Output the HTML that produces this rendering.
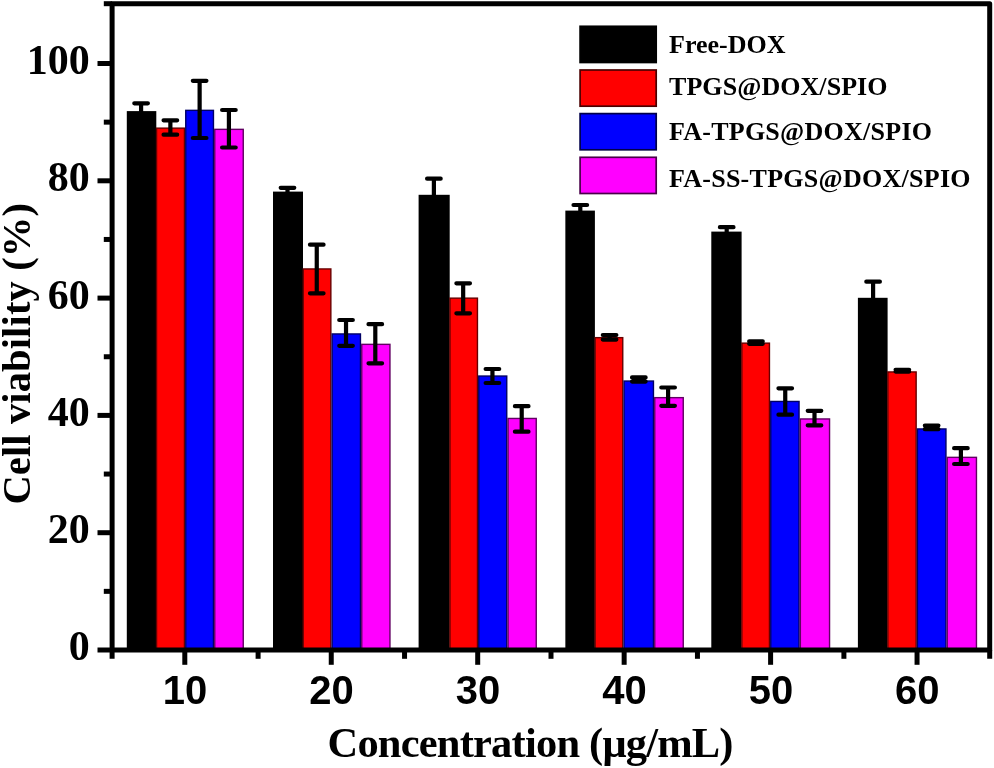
<!DOCTYPE html>
<html lang="en">
<head>
<meta charset="utf-8">
<title>Cell viability vs concentration</title>
<style>
html,body{margin:0;padding:0;background:#fff;}
body{width:994px;height:768px;overflow:hidden;}
svg{display:block;}
.ser{font-family:"Liberation Serif","DejaVu Serif",serif;font-weight:bold;fill:#000;}
.san{font-family:"Liberation Sans","DejaVu Sans",sans-serif;font-weight:bold;fill:#000;}
</style>
</head>
<body>
<svg width="994" height="768" viewBox="0 0 994 768">
<rect x="0" y="0" width="994" height="768" fill="#ffffff"/>
<g id="bars">
<rect x="126.80" y="111.10" width="29.50" height="538.90" fill="#000000"/>
<rect x="156.55" y="128.15" width="27.90" height="521.85" fill="#ff0000" stroke="#660000" stroke-width="1.4"/>
<rect x="185.75" y="110.35" width="27.70" height="539.65" fill="#0000ff" stroke="#000066" stroke-width="1.4"/>
<rect x="214.75" y="129.35" width="28.50" height="520.65" fill="#ff00ff" stroke="#620062" stroke-width="1.4"/>
<rect x="273.00" y="191.60" width="30.00" height="458.40" fill="#000000"/>
<rect x="303.25" y="268.95" width="27.60" height="381.05" fill="#ff0000" stroke="#660000" stroke-width="1.4"/>
<rect x="332.15" y="333.95" width="28.30" height="316.05" fill="#0000ff" stroke="#000066" stroke-width="1.4"/>
<rect x="361.75" y="344.35" width="28.20" height="305.65" fill="#ff00ff" stroke="#620062" stroke-width="1.4"/>
<rect x="418.60" y="194.80" width="31.10" height="455.20" fill="#000000"/>
<rect x="449.95" y="298.15" width="27.50" height="351.85" fill="#ff0000" stroke="#660000" stroke-width="1.4"/>
<rect x="478.75" y="376.05" width="28.00" height="273.95" fill="#0000ff" stroke="#000066" stroke-width="1.4"/>
<rect x="508.05" y="418.45" width="28.20" height="231.55" fill="#ff00ff" stroke="#620062" stroke-width="1.4"/>
<rect x="565.35" y="210.60" width="29.55" height="439.40" fill="#000000"/>
<rect x="595.15" y="337.65" width="27.60" height="312.35" fill="#ff0000" stroke="#660000" stroke-width="1.4"/>
<rect x="624.05" y="381.05" width="29.40" height="268.95" fill="#0000ff" stroke="#000066" stroke-width="1.4"/>
<rect x="654.75" y="397.65" width="28.50" height="252.35" fill="#ff00ff" stroke="#620062" stroke-width="1.4"/>
<rect x="711.30" y="231.60" width="30.30" height="418.40" fill="#000000"/>
<rect x="741.85" y="343.15" width="27.60" height="306.85" fill="#ff0000" stroke="#660000" stroke-width="1.4"/>
<rect x="770.75" y="401.45" width="28.30" height="248.55" fill="#0000ff" stroke="#000066" stroke-width="1.4"/>
<rect x="800.35" y="418.95" width="29.20" height="231.05" fill="#ff00ff" stroke="#620062" stroke-width="1.4"/>
<rect x="857.90" y="297.80" width="29.70" height="352.20" fill="#000000"/>
<rect x="887.85" y="371.95" width="28.30" height="278.05" fill="#ff0000" stroke="#660000" stroke-width="1.4"/>
<rect x="917.45" y="428.95" width="28.50" height="221.05" fill="#0000ff" stroke="#000066" stroke-width="1.4"/>
<rect x="947.25" y="457.35" width="29.20" height="192.65" fill="#ff00ff" stroke="#620062" stroke-width="1.4"/>
</g>
<g id="err" stroke="#000" stroke-width="4.2" stroke-linecap="round" fill="none">
<path d="M141.09 103.30V112.80M134.29 103.30H147.90"/>
<path d="M170.37 120.30V134.70M163.56 120.30H177.17M163.56 134.70H177.17"/>
<path d="M199.63 80.80V138.00M192.83 80.80H206.44M192.83 138.00H206.44"/>
<path d="M228.91 110.00V147.50M222.10 110.00H235.71M222.10 147.50H235.71"/>
<path d="M287.50 187.80V193.30M280.69 187.80H294.30"/>
<path d="M316.76 244.70V293.30M309.96 244.70H323.56M309.96 293.30H323.56"/>
<path d="M346.03 320.00V345.80M339.23 320.00H352.83M339.23 345.80H352.83"/>
<path d="M375.30 324.20V363.30M368.50 324.20H382.10M368.50 363.30H382.10"/>
<path d="M433.89 178.70V196.50M427.09 178.70H440.69"/>
<path d="M463.17 283.30V313.30M456.37 283.30H469.97M456.37 313.30H469.97"/>
<path d="M492.44 369.00V383.00M485.63 369.00H499.24M485.63 383.00H499.24"/>
<path d="M521.71 406.20V431.70M514.91 406.20H528.50M514.91 431.70H528.50"/>
<path d="M580.30 205.00V212.30M573.50 205.00H587.10"/>
<path d="M609.57 335.00V339.60M602.77 335.00H616.37M602.77 339.60H616.37"/>
<path d="M638.84 377.40V381.60M632.04 377.40H645.63M632.04 381.60H645.63"/>
<path d="M668.11 387.50V405.80M661.31 387.50H674.90M661.31 405.80H674.90"/>
<path d="M726.70 227.20V233.30M719.90 227.20H733.50"/>
<path d="M755.97 341.30V343.80M749.17 341.30H762.76M749.17 343.80H762.76"/>
<path d="M785.24 388.30V414.70M778.44 388.30H792.03M778.44 414.70H792.03"/>
<path d="M814.50 410.80V425.30M807.71 410.80H821.30M807.71 425.30H821.30"/>
<path d="M873.10 281.70V299.50M866.30 281.70H879.89"/>
<path d="M902.37 369.80V371.60M895.57 369.80H909.16M895.57 371.60H909.16"/>
<path d="M931.63 425.60V429.20M924.84 425.60H938.43M924.84 429.20H938.43"/>
<path d="M960.90 448.20V464.00M954.11 448.20H967.70M954.11 464.00H967.70"/>
</g>
<g id="axes" stroke="#000" stroke-width="5.0" fill="none" stroke-linecap="butt" stroke-linejoin="round">
<rect x="112.1" y="3.7" width="877.60" height="646.30"/>
<path d="M97.5 650.00H112.1"/>
<path d="M103.8 591.35H112.1"/>
<path d="M97.5 532.70H112.1"/>
<path d="M103.8 474.05H112.1"/>
<path d="M97.5 415.40H112.1"/>
<path d="M103.8 356.75H112.1"/>
<path d="M97.5 298.10H112.1"/>
<path d="M103.8 239.45H112.1"/>
<path d="M97.5 180.80H112.1"/>
<path d="M103.8 122.15H112.1"/>
<path d="M97.5 63.50H112.1"/>
<path d="M103.8 3.70H112.1"/>
<path d="M184.80 650.0V664.8"/>
<path d="M258.10 650.0V658.8"/>
<path d="M331.25 650.0V664.8"/>
<path d="M404.55 650.0V658.8"/>
<path d="M477.70 650.0V664.8"/>
<path d="M551.00 650.0V658.8"/>
<path d="M624.15 650.0V664.8"/>
<path d="M697.45 650.0V658.8"/>
<path d="M770.60 650.0V664.8"/>
<path d="M843.90 650.0V658.8"/>
<path d="M917.05 650.0V664.8"/>
<path d="M112.10 650.0V658.8M989.70 650.0V658.8"/>
</g>
<g class="ser" font-size="42" text-anchor="end">
<text x="89.8" y="660.4">0</text>
<text x="89.8" y="543.1">20</text>
<text x="89.8" y="425.8">40</text>
<text x="89.8" y="308.5">60</text>
<text x="89.8" y="191.2">80</text>
<text x="89.8" y="73.9">100</text>
</g>
<g class="san" font-size="40" text-anchor="middle">
<text x="185.1" y="704.3">10</text>
<text x="331.6" y="704.3">20</text>
<text x="478.0" y="704.3">30</text>
<text x="624.4" y="704.3">40</text>
<text x="770.9" y="704.3">50</text>
<text x="917.3" y="704.3">60</text>
</g>
<text class="ser" font-size="42.5" x="327.5" y="757.3" textLength="406" lengthAdjust="spacing">Concentration (μg/mL)</text>
<text class="ser" font-size="40.5" transform="translate(29.5 504.6) rotate(-90)" textLength="301.5" lengthAdjust="spacing">Cell viability (%)</text>
<g id="legend">
<rect x="580.1" y="26.3" width="76.1" height="36.2" fill="#000000" stroke="#000000" stroke-width="1.7"/>
<text class="ser" font-size="26" x="669" y="52.9" textLength="116.5" lengthAdjust="spacing">Free-DOX</text>
<rect x="580.1" y="70.0" width="76.1" height="36.2" fill="#ff0000" stroke="#4a0000" stroke-width="1.7"/>
<text class="ser" font-size="26" x="669" y="94.6" textLength="218.5" lengthAdjust="spacing">TPGS@DOX/SPIO</text>
<rect x="580.1" y="113.6" width="76.1" height="36.2" fill="#0000ff" stroke="#00004a" stroke-width="1.7"/>
<text class="ser" font-size="26" x="669" y="139.6" textLength="263" lengthAdjust="spacing">FA-TPGS@DOX/SPIO</text>
<rect x="580.1" y="157.3" width="76.1" height="36.2" fill="#ff00ff" stroke="#4a004a" stroke-width="1.7"/>
<text class="ser" font-size="26" x="669" y="186.8" textLength="301.5" lengthAdjust="spacing">FA-SS-TPGS@DOX/SPIO</text>
</g>
</svg>
</body>
</html>
